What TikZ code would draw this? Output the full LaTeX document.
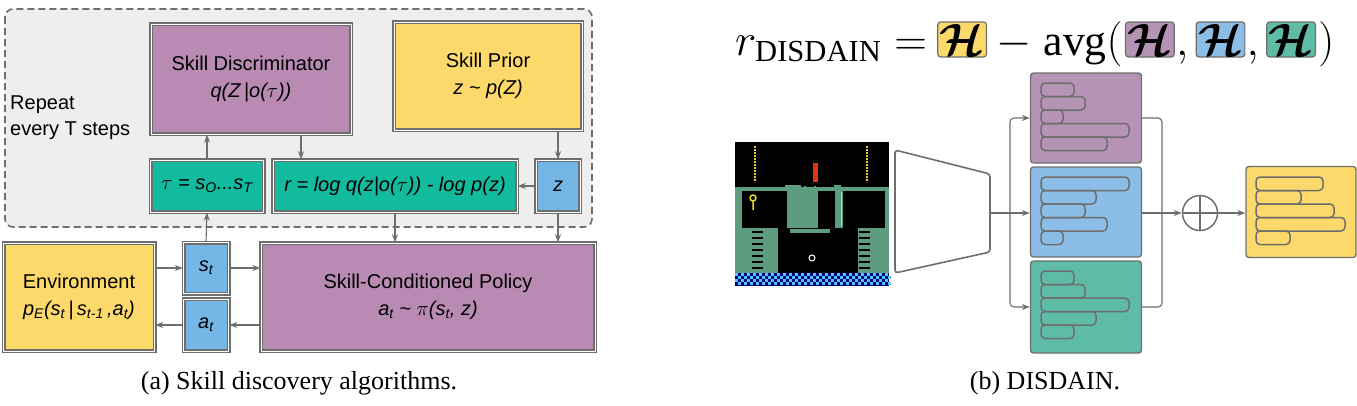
\documentclass[tikz,border=0pt]{standalone}
\usepackage{amsmath,bm,graphicx}
\usepackage{fontspec}
\setmainfont{Liberation Sans}
\setmathrm{Liberation Serif}
\newfontfamily\capfont{Liberation Serif}
\usetikzlibrary{arrows.meta}
\definecolor{bd}{HTML}{6E6E6E}
\definecolor{cpur}{HTML}{B98BB3}
\definecolor{cyel}{HTML}{FDD96B}
\definecolor{cteal}{HTML}{12BA9E}
\definecolor{cblue}{HTML}{74B7E6}
\definecolor{rpur}{HTML}{B593B5}
\definecolor{rblue}{HTML}{8BBDE6}
\definecolor{rgreen}{HTML}{5DBBA6}
\definecolor{gbg}{HTML}{5E9C80}
\newcommand{\fmla}[1]{\scalebox{1.82}{$#1$}}
\tikzset{
  box/.style={draw=bd, line width=1.5pt, double=white, double distance=1pt, inner sep=0pt, align=center, font=\fontsize{20}{24}\selectfont},
  arr/.style={draw=bd, line width=1.1pt, -{Stealth[length=8pt,width=6pt]}},
  rbox/.style={draw=bd, line width=1.3pt, rounded corners=3pt},
  bar/.style={draw=bd, line width=1.5pt, rounded corners=4pt},
  hb/.style={draw=bd, line width=1.2pt, rounded corners=3pt, inner sep=2pt, font=\fontsize{24}{28}\selectfont},
  ft/.style={inner sep=0pt, font=\fontsize{24}{28}\selectfont},
  captxt/.style={font=\capfont\fontsize{26}{30}\selectfont, inner sep=0pt},
}
\begin{document}
\begin{tikzpicture}[x=1pt,y=-1pt]
\useasboundingbox (0,0) rectangle (1357,405);
% ---------- (a) ----------
\draw[bd, line width=1.6pt, dash pattern=on 7pt off 4pt, fill=gray!13, rounded corners=8pt] (5,9) rectangle (592,227);
\node[anchor=west, align=left, font=\fontsize{20}{26}\selectfont, inner sep=0pt] (rep) at (10,118) {Repeat\\every T steps};
\node[box, fill=cpur, minimum width=200pt, minimum height=110pt] (disc) at (251,79) {Skill Discriminator\\[3pt]\itshape q(Z\,|o($\tau$))};
\node[box, fill=cyel, minimum width=188pt, minimum height=108pt] (prior) at (488,76) {Skill Prior\\[3pt]\itshape z \textasciitilde\ p(Z)};
\node[box, fill=cteal, minimum width=113pt, minimum height=52pt] (tau) at (207,186) {\itshape $\tau$ = s\textsubscript{O}...s\textsubscript{T}};
\node[box, fill=cteal, minimum width=244pt, minimum height=52pt] (rr) at (395,186) {\itshape r = log q(z|o($\tau$)) - log p(z)};
\node[box, fill=cblue, minimum width=44pt, minimum height=52pt] (z) at (558,186) {\itshape z};
\node[box, fill=cyel, minimum width=151pt, minimum height=108pt] (env) at (79,297) {Environment\\[3pt]\itshape p\textsubscript{E}(s\textsubscript{t}\,|\,s\textsubscript{t-1}\,,a\textsubscript{t})};
\node[box, fill=cblue, minimum width=45pt, minimum height=51pt] (st) at (206,268) {\itshape s\textsubscript{t}};
\node[box, fill=cblue, minimum width=45pt, minimum height=52pt] (at) at (206,325) {\itshape a\textsubscript{t}};
\node[box, fill=cpur, minimum width=334pt, minimum height=108pt] (pol) at (428,297) {Skill-Conditioned Policy\\[3pt]\itshape a\textsubscript{t} \textasciitilde\ $\pi$(s\textsubscript{t}, z)};
\draw[arr] (tau.north) -- (disc.south -| tau.north);
\draw[arr] (disc.south -| 301,0) -- (rr.north -| 301,0);
\draw[arr] (prior.south -| z.north) -- (z.north);
\draw[arr] (z.west) -- (rr.east);
\draw[arr] (st.north) -- (tau.south);
\draw[arr] (rr.south -| 395,0) -- (pol.north -| 395,0);
\draw[arr] (z.south) -- (pol.north -| z.south);
\draw[arr] (env.east |- st.west) -- (st.west);
\draw[arr] (st.east) -- (pol.west |- st.east);
\draw[arr] (pol.west |- at.east) -- (at.east);
\draw[arr] (at.west) -- (env.east |- at.west);
\node[captxt] (capa) at (299,383) {(a) Skill discovery algorithms.};
% ---------- (b) formula ----------
\node[ft, anchor=base west] (f1) at (735,55) {\fmla{r_{\mathrm{DISDAIN}} =}};
\node[hb, fill=cyel, anchor=base west] (h1) at ([xshift=10pt]f1.base east) {\fmla{\bm{\mathcal{H}}}};
\node[ft, anchor=base west] (f2) at ([xshift=9pt]h1.base east) {\fmla{-\ \mathrm{avg}(}};
\node[hb, fill=rpur, anchor=base west] (h2) at ([xshift=2pt]f2.base east) {\fmla{\bm{\mathcal{H}}}};
\node[ft, anchor=base west] (c1) at ([xshift=1pt]h2.base east) {\fmla{,}};
\node[hb, fill=rblue, anchor=base west] (h3) at ([xshift=7pt]c1.base east) {\fmla{\bm{\mathcal{H}}}};
\node[ft, anchor=base west] (c2) at ([xshift=1pt]h3.base east) {\fmla{,}};
\node[hb, fill=rgreen, anchor=base west] (h4) at ([xshift=7pt]c2.base east) {\fmla{\bm{\mathcal{H}}}};
\node[ft, anchor=base west] (f3) at ([xshift=2pt]h4.base east) {\fmla{)}};
% ---------- game image ----------
\fill[black] (735,142) rectangle (889,286);
\fill[gbg] (735,185) rectangle (889,273);
\fill[black] (742,191) rectangle (787,228);
\fill[black] (818,191) rectangle (835,228);
\fill[black] (843,191) rectangle (885,228);
\fill[black] (778,228) rectangle (858,273);
\fill[black] (735,183) rectangle (785,187);
\fill[black] (801,183) rectangle (834,187);
\fill[black] (841,183) rectangle (889,187);
\foreach \y in {191,197,...,225} {\draw[gbg, line width=1.5pt] (805,\y) -- (815,\y);}
\draw[gbg, line width=1.5pt] (805,186) -- (805,228) (815,186) -- (815,228);
\foreach \y in {232,238,...,270} {\draw[black, line width=1.5pt] (752,\y) -- (763,\y) (859,\y) -- (870,\y);}
\fill[gbg] (790,229) rectangle (830,233);
\draw[yellow!60!brown, line width=1.5pt, dash pattern=on 2pt off 1pt] (755,146) -- (755,182) (867,146) -- (867,182);
\draw[yellow!70!brown, line width=1pt] (841,192) -- (841,226);
\draw[yellow!70!brown, line width=1.5pt] (753,198) circle (3pt) (753,201) -- (753,210);
\fill[red!60!brown] (813,163) rectangle (818,182);
\draw[white, line width=1pt] (812,258) circle (3pt);
\fill[blue!50!black] (735,273) rectangle (889,286);
\foreach \x in {735,741,...,885} {\foreach \y in {273,279} {\fill[blue!30!cyan!70!white] (\x,\y) rectangle ++(3,3);\fill[blue!30!cyan!70!white] (\x+3,\y+3) rectangle ++(3,3);}}
\node[inner sep=0pt, minimum size=0pt] (game) at (812,214) {};
% ---------- encoder ----------
\draw[rbox, line width=1.6pt, fill=white] (895,150) -- (990,174) -- (990,252) -- (895,273) -- cycle;
\coordinate (enc) at (990,213);
\coordinate (bus) at (1010,213);
% ---------- heads ----------
\node[rbox, fill=rpur, minimum width=111pt, minimum height=90pt, inner sep=0pt] (hp) at (1086,118) {};
\node[rbox, fill=rblue, minimum width=111pt, minimum height=90pt, inner sep=0pt] (hbl) at (1086,212) {};
\node[rbox, fill=rgreen, minimum width=111pt, minimum height=92pt, inner sep=0pt] (hg) at (1086,307) {};
\node[rbox, fill=cyel, minimum width=110pt, minimum height=91pt, inner sep=0pt] (out) at (1301,212) {};
\node[draw=bd, line width=1.5pt, circle, minimum size=35pt, inner sep=0pt] (plus) at (1200,213) {};
\draw[bd, line width=1.5pt] (plus.north) -- (plus.south) (plus.west) -- (plus.east);
% bars
\foreach \e [count=\i] in {1074,1085,1063,1129,1107} {\draw[bar] (1041,{73+10+(\i-1)*13.5}) rectangle (\e,{73+10+\i*13.5});}
\foreach \e [count=\i] in {1129,1096,1085,1107,1063} {\draw[bar] (1041,{167+10+(\i-1)*13.5}) rectangle (\e,{167+10+\i*13.5});}
\foreach \e [count=\i] in {1074,1085,1129,1096,1074} {\draw[bar] (1041,{261+10+(\i-1)*13.5}) rectangle (\e,{261+10+\i*13.5});}
\foreach \e [count=\i] in {1323,1301,1334,1345,1290} {\draw[bar] (1256,{167+10+(\i-1)*13.5}) rectangle (\e,{167+10+\i*13.5});}
% connectors
\draw[bd, line width=1.2pt] (enc) -- (bus);
\draw[arr, rounded corners=4pt] (bus) |- (hp.west);
\draw[arr] (bus) -- (hbl.west |- bus);
\draw[arr, rounded corners=4pt] (bus) |- (hg.west);
\draw[bd, line width=1.2pt, rounded corners=4pt] (hp.east) -| (1162,213);
\draw[bd, line width=1.2pt, rounded corners=4pt] (hg.east) -| (1162,213);
\draw[arr] (hbl.east |- plus.west) -- (plus.west);
\draw[arr] (plus.east) -- (out.west |- plus.east);
\node[captxt] (capb) at (1045,383) {(b) DISDAIN.};
\end{tikzpicture}
\end{document}
